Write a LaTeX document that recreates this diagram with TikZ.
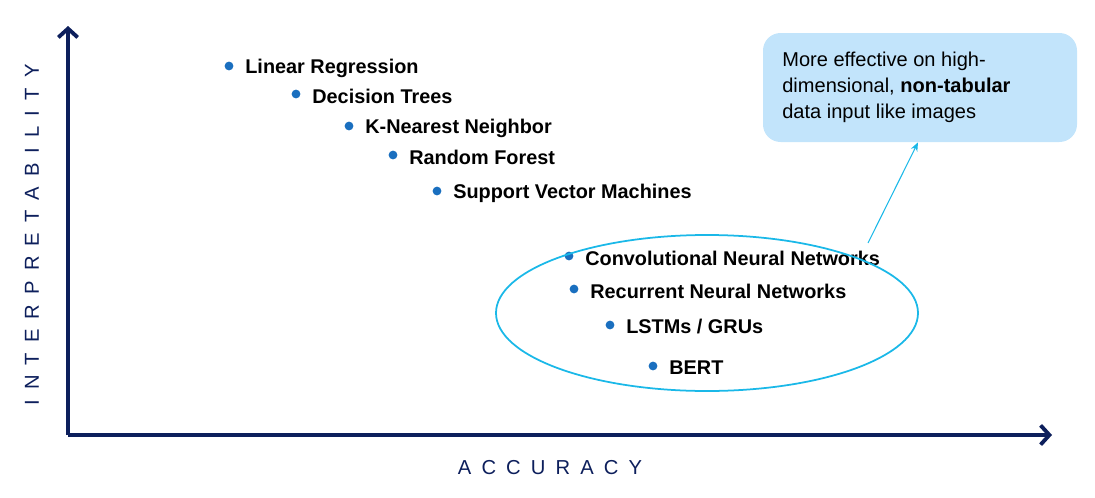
\documentclass[tikz,border=0pt]{standalone}
\usepackage{fontspec}
\setmainfont{Liberation Sans}
\usetikzlibrary{arrows.meta}
\definecolor{navy}{HTML}{0D1F5C}
\definecolor{dotblue}{HTML}{1A6FBF}
\definecolor{cyanline}{HTML}{1AB8E8}
\definecolor{callfill}{HTML}{C2E4FB}
\begin{document}
\begin{tikzpicture}[x=0.02cm, y=-0.02cm,
    model/.style={anchor=west, font=\fontsize{11.3}{13}\selectfont\bfseries, inner sep=0pt},
    dot/.style={circle, fill=dotblue, inner sep=0pt, minimum size=5pt},
    axis/.style={navy, line width=2.2pt, -{Straight Barb[length=5pt,width=11pt]}},
    axlab/.style={navy, font=\fontsize{11.5}{13}\selectfont}
  ]
    \useasboundingbox (0,0) rectangle (1095,497);

    \coordinate (origin) at (68,435);
    \coordinate (ytop) at (68,26);
    \coordinate (xend) at (1052,435);
    \draw[axis] (origin)--(ytop);
    \draw[axis] (origin)--(xend);
    \node[axlab, rotate=90] (ylab) at (32,235) {I\,\,\,N\,\,\,T\,\,\,E\,\,\,R\,\,\,P\,\,\,R\,\,\,E\,\,\,T\,\,\,A\,\,\,B\,\,\,I\,\,\,L\,\,\,I\,\,\,T\,\,\,Y};
    \node[axlab] (xlab) at (550,468) {A\,\,\,C\,\,\,C\,\,\,U\,\,\,R\,\,\,A\,\,\,C\,\,\,Y};

    % models
    \foreach \x/\y/\name/\txt in {
        229/66/lr/{Linear Regression},
        296/94/dt/{Decision Trees},
        349/126/knn/{K-Nearest Neighbor},
        393/155/rf/{Random Forest},
        437/191/svm/{Support Vector Machines},
        569/256/cnn/{Convolutional Neural Networks},
        574/289/rnn/{Recurrent Neural Networks},
        610/325/lstm/{LSTMs / GRUs},
        653/366/bert/{BERT}}{
      \node[dot] (\name-dot) at (\x,\y) {};
      \node[model] (\name) at (\x+16,\y+2) {\txt};
    }

    \draw[cyanline, line width=1pt] (707,313) ellipse (211 and 78);
    \coordinate (arrstart) at (868,243);

    \node[fill=callfill, rounded corners=10pt, minimum width=314*0.02cm, minimum height=109*0.02cm] (callout) at (920,87.5) {};
    \node[anchor=north west, align=left, inner sep=0pt, font=\fontsize{11.4}{14.6}\selectfont] (calltxt) at (782,52)
      {More effective on high-\\dimensional, \textbf{non-tabular}\\data input like images};
    \draw[cyanline, line width=0.6pt, -{Stealth[length=5pt,width=4pt]}] (arrstart) -- (callout.south -| 918,0);
\end{tikzpicture}
\end{document}
